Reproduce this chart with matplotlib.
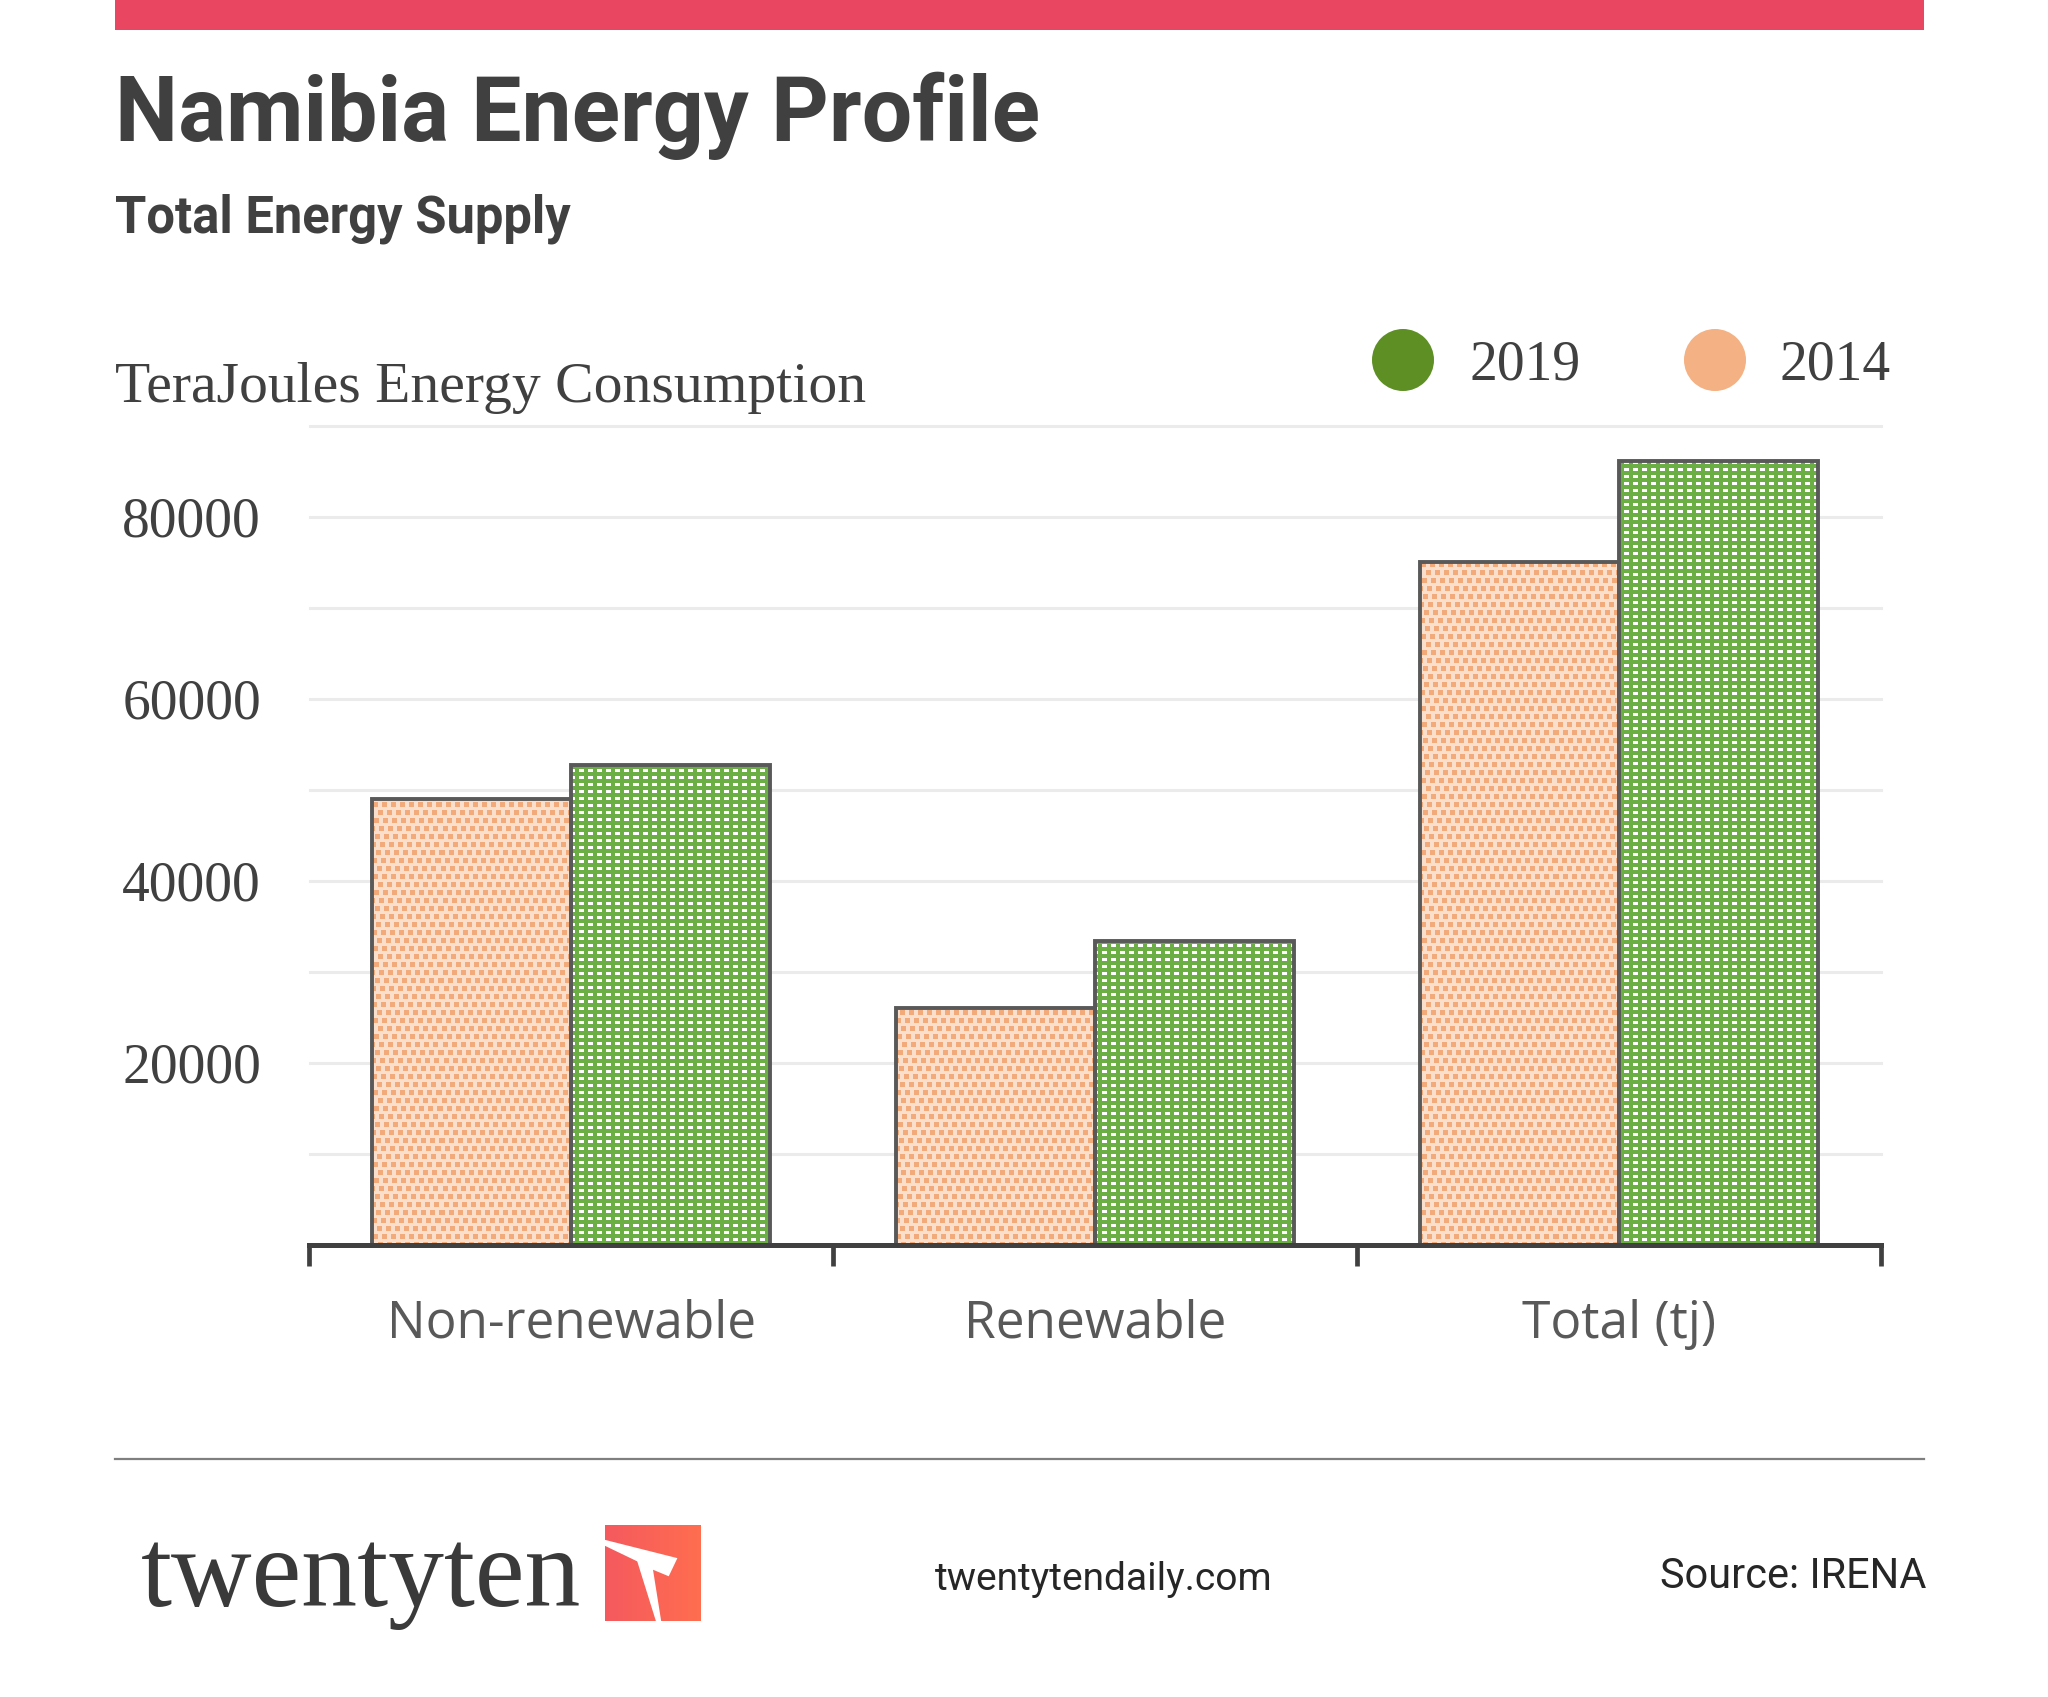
import numpy as np
import matplotlib
matplotlib.use("Agg")
import matplotlib.pyplot as plt
from matplotlib import font_manager
from matplotlib.patches import Rectangle, Ellipse, Polygon
from matplotlib.lines import Line2D

# data
categories = ["Non-renewable", "Renewable", "Total (tj)"]
series_names = ["2014", "2019"]
values_2014 = [49000, 26000, 75000]
values_2019 = [52700, 33400, 86100]
y_labels = [20000, 40000, 60000, 80000]
grid_levels = list(range(10000, 90001, 10000))

# colours
RED = "#E94662"
DARK = "#404040"
GREEN_DOT = "#5E8F25"
ORANGE_DOT = "#F4B183"
GREEN_BASE = (0.42, 0.69, 0.27)
PEACH_BG = (0.98, 0.875, 0.80)
PEACH_SQ = (0.95, 0.67, 0.48)
EDGE = "#595959"

names = {f.name for f in font_manager.fontManager.ttflist}
NARROW = "Liberation Sans Narrow" if "Liberation Sans Narrow" in names else "Roboto"

W, H, DPI = 2048, 1697, 100
fig = plt.figure(figsize=(W / DPI, H / DPI), dpi=DPI)
fig.patch.set_facecolor("white")


def fit_width(txt, target_px):
    r = fig.canvas.get_renderer()
    w = txt.get_window_extent(r).width
    txt.set_fontsize(txt.get_fontsize() * target_px / w)


# header
fig.add_artist(Rectangle((115 / W, 1 - 30 / H), (1924 - 115) / W, 0.03,
                         transform=fig.transFigure, color=RED, lw=0))
t = fig.text(115 / W, 1 - 141 / H, "Namibia Energy Profile", family="Roboto",
             weight="bold", color=DARK, fontsize=60, va="baseline")
fit_width(t, 926)
t = fig.text(115 / W, 1 - 232 / H, "Total Energy Supply", family="Roboto",
             weight="bold", color=DARK, fontsize=35, va="baseline")
fit_width(t, 456)
t = fig.text(115 / W, 1 - 402 / H, "TeraJoules Energy Consumption",
             family="Liberation Serif", color=DARK, fontsize=40, va="baseline")
fit_width(t, 750)

# legend
for cx, tx, col, lab in [(1403, 1469, GREEN_DOT, "2019"), (1715, 1780, ORANGE_DOT, "2014")]:
    fig.add_artist(Ellipse((cx / W, 1 - 360 / H), 62 / W, 62 / H,
                           transform=fig.transFigure, color=col, lw=0))
    fig.text(tx / W, 1 - 379 / H, lab, family="Liberation Serif", color=DARK,
             fontsize=40, va="baseline")

# chart
ax = fig.add_axes([309.5 / W, 1 - 1244.6 / H, (1880.6 - 309.5) / W, (1244.6 - 425.8) / H])
x = np.arange(len(categories))
bw = 0.38
bars_2014 = ax.bar(x - bw / 2, values_2014, bw, facecolor="none", edgecolor=EDGE,
                   lw=2.8, zorder=3, label=series_names[0])
bars_2019 = ax.bar(x + bw / 2, values_2019, bw, facecolor="none", edgecolor=EDGE,
                   lw=2.8, zorder=3, label=series_names[1])

xlim = (-0.5, 2.5)
ylim = (0, 90000)
ax.set_xlim(*xlim)
ax.set_ylim(*ylim)

# textures for the bar fills
bb = ax.get_position()
wp, hp = int(round(bb.width * W)), int(round(bb.height * H))
rr, cc = np.mgrid[0:hp, 0:wp]
green_tex = np.empty((hp, wp, 3))
green_tex[:] = GREEN_BASE
green_tex[(rr % 7 < 3) & (cc % 9 < 5)] = (1, 1, 1)
peach_tex = np.empty((hp, wp, 3))
peach_tex[:] = PEACH_BG
blk = rr // 8
peach_tex[(rr % 8 < 5) & ((cc + 4 * blk) % 9 < 5)] = PEACH_SQ

for bars, tex in [(bars_2014, peach_tex), (bars_2019, green_tex)]:
    for b in bars:
        im = ax.imshow(tex, extent=(xlim[0], xlim[1], ylim[0], ylim[1]), origin="upper",
                       interpolation="nearest", aspect="auto", zorder=2)
        im.set_clip_path(b)
ax.set_xlim(*xlim)
ax.set_ylim(*ylim)

ax.set_yticks(grid_levels)
ax.set_yticklabels([str(v) if v in y_labels else "" for v in grid_levels],
                   family="Liberation Serif", fontsize=40, color=DARK)
ax.tick_params(axis="y", length=0, pad=35)
ax.yaxis.grid(True, color="#EBEBEB", lw=2.2)
for gl in ax.get_ygridlines():
    gl.set_clip_on(False)
ax.set_axisbelow(True)

ax.set_xticks(x)
ax.set_xticklabels(categories, family="Open Sans", fontsize=37, color="#595959")
ax.tick_params(axis="x", which="major", length=0, pad=39)
ax.set_xticks([-0.5, 0.5, 1.5, 2.5], minor=True)
ax.tick_params(axis="x", which="minor", length=15, width=3.4, color=DARK, direction="out")

for s in ["left", "right", "top"]:
    ax.spines[s].set_visible(False)
ax.spines["bottom"].set_color(DARK)
ax.spines["bottom"].set_linewidth(3.6)
ax.spines["bottom"].set_zorder(4)

# footer
fig.add_artist(Line2D([115 / W, 1924 / W], [1 - 1459 / H, 1 - 1459 / H],
                      transform=fig.transFigure, color="#7F7F7F", lw=1.6))
t = fig.text(141 / W, 1 - 1606 / H, "twentyten", family="Liberation Serif",
             color="#3A3A3A", fontsize=80, va="baseline")
fit_width(t, 440)

lax = fig.add_axes([605 / W, 1 - 1621 / H, 96 / W, 96 / H])
grad = np.linspace(0, 1, 64)[None, :, None]
c0 = np.array([0.96, 0.35, 0.37])
c1 = np.array([1.0, 0.43, 0.31])
lax.imshow(c0 + (c1 - c0) * grad * np.ones((64, 1, 1)), extent=(0, 1, 0, 1), aspect="auto")
lax.add_patch(Polygon([(0.0, 0.845), (0.754, 0.655), (0.664, 0.466), (0.5, 0.534),
                       (0.585, 0.0), (0.53, 0.0), (0.336, 0.621), (0.0, 0.783)],
                      closed=True, color="white", lw=0))
lax.set_xlim(0, 1)
lax.set_ylim(0, 1)
lax.axis("off")

t = fig.text(1103.5 / W, 1 - 1580 / H, "twentytendaily.com", family=NARROW,
             color="#262626", fontsize=34, ha="center", va="center")
fit_width(t, 339)
t = fig.text(1926 / W, 1 - 1577 / H, "Source: IRENA", family=NARROW,
             color="#262626", fontsize=34, ha="right", va="center")
fit_width(t, 267)

fig.savefig("out.png", dpi=DPI, facecolor="white")
